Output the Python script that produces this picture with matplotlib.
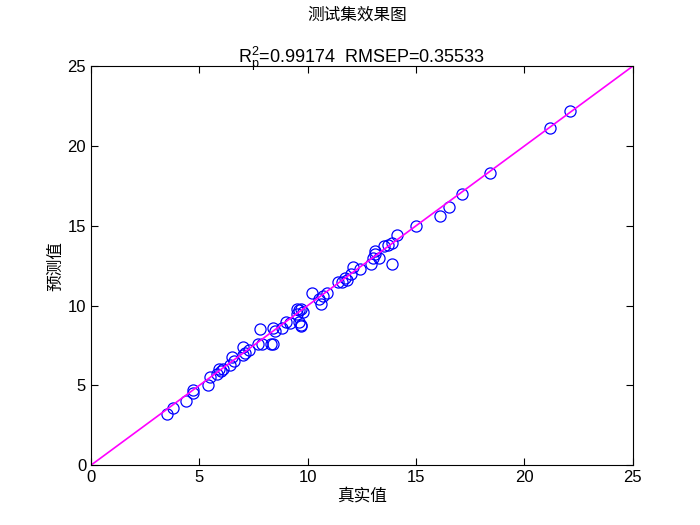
import matplotlib
matplotlib.use('Agg')
import matplotlib.pyplot as plt
import numpy as np

true_vals = [3.5,3.8,4.4,4.7,4.7,5.4,5.5,5.8,5.9,6.0,6.1,6.4,6.5,6.6,7.0,7.0,7.1,7.3,7.7,7.8,7.9,8.3,8.4,8.4,8.5,8.8,9.0,9.2,9.5,9.5,9.6,9.6,9.7,9.7,9.7,9.8,10.2,10.5,10.6,10.7,10.9,11.4,11.6,11.7,11.8,12.0,12.1,12.4,12.9,13.0,13.1,13.1,13.3,13.5,13.7,13.9,13.9,14.1,15.0,16.1,16.5,17.1,18.4,21.2,22.1]
pred_vals = [3.2,3.6,4.0,4.5,4.7,5.0,5.5,5.7,6.0,5.9,6.0,6.3,6.8,6.5,6.9,7.4,7.0,7.2,7.6,8.5,7.6,7.6,7.6,8.6,8.4,8.6,9.0,8.9,9.8,9.5,9.7,9.0,8.8,8.7,9.8,9.6,10.8,10.4,10.1,10.6,10.8,11.5,11.5,11.7,11.6,12.0,12.4,12.3,12.6,13.0,13.4,13.2,13.0,13.7,13.8,12.6,13.9,14.4,15.0,15.6,16.2,17.0,18.3,21.1,22.2]
line_x = [0, 25]

plt.rcParams['font.family'] = ['Liberation Sans', 'Noto Sans CJK SC', 'DejaVu Sans']
fig = plt.figure(figsize=(7, 5.25), dpi=100)
ax = fig.add_axes([0.13, 0.114, 0.774, 0.76])
ax.plot(true_vals, pred_vals, 'o', mfc='none', mec='blue', ms=8, mew=0.9)
ax.plot(line_x, line_x, color='magenta', lw=1.2)
ax.set_xlim(0, 25); ax.set_ylim(0, 25)
ax.set_xticks(range(0, 26, 5)); ax.set_yticks(range(0, 26, 5))
ax.tick_params(direction='in', labelsize=12, top=True, right=True, length=5)
cjk = ['Noto Sans CJK SC']
ax.set_xlabel('真实值', family=cjk, fontsize=12, labelpad=2)
ax.set_ylabel('预测值', family=cjk, fontsize=12, labelpad=2)
fig.text(0.51, 0.963, '测试集效果图', family=cjk, ha='center', fontsize=12)
ax.set_title(r'R$_\mathregular{p}^\mathregular{2}$=0.99174  RMSEP=0.35533', fontsize=13, pad=2)
fig.savefig('out.png', dpi=100)
